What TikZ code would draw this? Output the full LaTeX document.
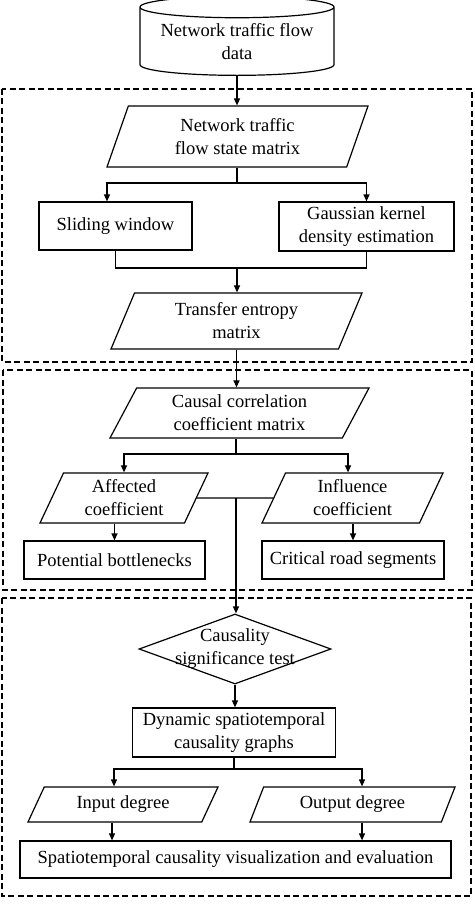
\documentclass[tikz,border=0pt]{standalone}
\usepackage{fontspec}
\setmainfont{Liberation Serif}
\usetikzlibrary{shapes.geometric, arrows.meta}

\begin{document}
\begin{tikzpicture}[
    x=1pt, y=-1pt,
    base/.style={draw=black, line width=1.2pt, inner sep=0pt, align=center,
        font=\fontsize{18.5}{23}\selectfont},
    rectbox/.style={base, rectangle},
    slantbox/.style={base, trapezium, trapezium stretches body=true,
        trapezium left angle=#1, trapezium right angle=180-#1},
    decision/.style={base, diamond},
    database/.style={base, cylinder, shape border rotate=90, aspect=0.14},
    frame/.style={line width=1.2pt, dash pattern=on 6pt off 3.5pt},
    arrow/.style={line width=1.2pt, -{Triangle[length=7pt, width=6pt]}},
    link/.style={line width=1.2pt},
]
    \useasboundingbox (0,0) rectangle (474,915);

    % dashed group frames
    \draw [frame] (2, 89) rectangle (472, 362);
    \draw [frame] (3, 370) rectangle (472, 590);
    \draw [frame] (2, 598) rectangle (471, 896);

    % input data
    \node [database, minimum width=194, minimum height=79] at (237, 41.5) (data){Network traffic flow\\data};

    % first group
    \node [slantbox=59.5, minimum width=261, minimum height=61] at (237.5, 136.5) (state){Network traffic\\flow state matrix};
    \node [rectbox, minimum width=153, minimum height=48] at (115.5, 226) (slide){Sliding window};
    \node [rectbox, minimum width=175, minimum height=49] at (366.5, 226.5) (gauss){Gaussian kernel\\density estimation};
    \node [slantbox=57, minimum width=251, minimum height=56] at (236.5, 321) (transfer){Transfer entropy\\matrix};

    % second group
    \node [slantbox=53.5, minimum width=259, minimum height=50] at (239.5, 413) (causal){Causal correlation\\coefficient matrix};
    \node [slantbox=57, minimum width=168, minimum height=50] at (124, 498) (affected){Affected\\coefficient};
    \node [slantbox=57, minimum width=181, minimum height=50] at (352.5, 498) (influence){Influence\\coefficient};
    \node [rectbox, minimum width=181, minimum height=38] at (114.5, 560) (bottleneck){Potential bottlenecks};
    \node [rectbox, minimum width=182, minimum height=38] at (353, 560) (critical){Critical road segments};

    % third group
    \node [decision, minimum width=192, minimum height=70,
        label={[align=center, font=\fontsize{18.5}{23}\selectfont]center:Causality\\significance test}] at (235, 649) (test){};
    \node [rectbox, minimum width=203, minimum height=49] at (234, 732.5) (graph){Dynamic spatiotemporal\\causality graphs};
    \node [slantbox=46, minimum width=190, minimum height=35] at (123, 804.5) (indeg){Input degree};
    \node [slantbox=51, minimum width=205, minimum height=35] at (352.5, 804.5) (outdeg){Output degree};
    \node [rectbox, minimum width=431, minimum height=37] at (235.5, 859.5) (visual){Spatiotemporal causality visualization and evaluation};

    % split and merge points
    \coordinate (split1) at (237, 183);
    \coordinate (merge1) at (237, 268);
    \coordinate (split2) at (236, 454);
    \coordinate (merge2) at (236, 498);
    \coordinate (split3) at (234, 769);

    % connectors
    \draw [arrow] (data.bottom) -- (data.bottom |- state.north);
    \draw [link] (state.south -| split1) -- (split1);
    \draw [arrow] (split1) -| ([xshift=-8.5pt]slide.north);
    \draw [arrow] (split1) -| (gauss.north);
    \draw [link] (slide.south) |- (merge1) -| (gauss.south);
    \draw [arrow] (merge1) -- (merge1 |- transfer.north);
    \draw [arrow] (transfer.south) -- (transfer.south |- causal.north);

    \draw [link] (causal.south -| split2) -- (split2);
    \draw [arrow] (split2) -| (affected.north);
    \draw [arrow] (split2) -| ([xshift=-4.5pt]influence.north);
    \draw [arrow] (bottleneck.north |- affected.south) -- (bottleneck.north);
    \draw [arrow] (critical.north |- influence.south) -- (critical.north);
    \draw [link] (affected.east) -- (influence.west);
    \draw [arrow] (merge2) -- (merge2 |- test.north);

    \draw [arrow] (test.south) -- (test.south |- graph.north);
    \draw [link] (graph.south) -- (split3);
    \draw [arrow] (split3) -| ([xshift=-9pt]indeg.north);
    \draw [arrow] (split3) -| ([xshift=9.5pt]outdeg.north);
    \draw [arrow] ([xshift=-11pt]indeg.south) -- ([xshift=-11pt]indeg.south |- visual.north);
    \draw [arrow] ([xshift=9.5pt]outdeg.south) -- ([xshift=9.5pt]outdeg.south |- visual.north);

\end{tikzpicture}
\end{document}
